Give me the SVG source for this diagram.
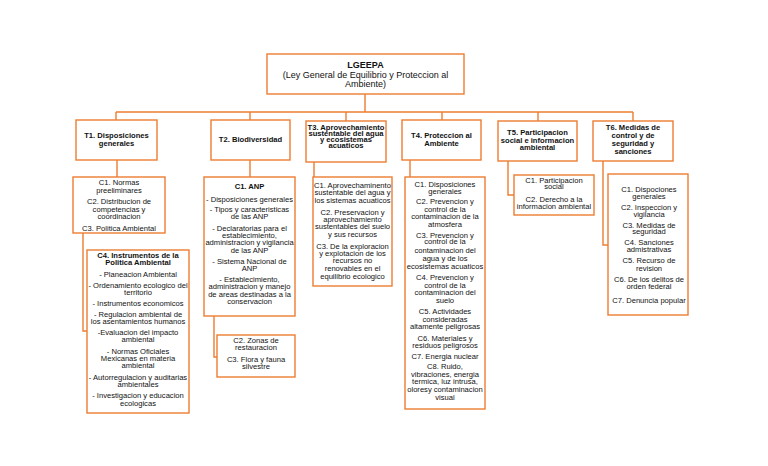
<svg xmlns="http://www.w3.org/2000/svg" width="768" height="466" viewBox="0 0 768 466">
<style>
.box{fill:#fff;stroke:#ED7D31;stroke-width:1.4}
.ln{fill:none;stroke:#ED7D31;stroke-width:1.4}
text{font-family:"Liberation Sans",Arial,sans-serif;font-size:7.6px;text-anchor:middle;fill:#111}
.b{font-weight:bold}
.r{font-size:9px}
</style>
<rect width="768" height="466" fill="#fff"/>
<g id="connectors">
<path class="ln" d="M365,94V112M116,112H633M116,112V120M250,112V120M346,112V121M442,112V120M538,112V121M633,112V121"/>
<path class="ln" d="M117,160V177M83,233V331H87"/>
<path class="ln" d="M250,160V177M214,316V357H217"/>
<path class="ln" d="M314,162V177"/>
<path class="ln" d="M410,160V177"/>
<path class="ln" d="M508,161V195H514"/>
<path class="ln" d="M603,161V245H608"/>
</g>
<g id="root">
<rect class="box" x="267" y="54" width="197" height="40"/>
<text class="r"><tspan class="b" x="365.5" y="67.5">LGEEPA</tspan><tspan x="365.5" y="78.3">(Ley General de Equilibrio y Proteccion al</tspan><tspan x="365.5" y="86.5">Ambiente)</tspan></text>
</g>
<g id="t1">
<rect class="box" x="76" y="120" width="81" height="40"/>
<text class="b"><tspan x="116.5" y="137.7">T1. Disposiciones</tspan><tspan x="116.5" y="145.7">generales</tspan></text>
</g>
<g id="t2">
<rect class="box" x="211" y="120" width="79" height="40"/>
<text class="b"><tspan x="250.5" y="141.7">T2. Biodiversidad</tspan></text>
</g>
<g id="t3">
<rect class="box" x="306" y="121" width="80" height="41"/>
<text class="b"><tspan x="346" y="130">T3. Aprovechamiento</tspan><tspan x="346" y="136">sustentable del agua</tspan><tspan x="346" y="142.2">y ecosistemas</tspan><tspan x="346" y="148.4">acuaticos</tspan></text>
</g>
<g id="t4">
<rect class="box" x="402" y="120" width="79" height="40"/>
<text class="b"><tspan x="441.5" y="138.2">T4. Proteccion al</tspan><tspan x="441.5" y="145.7">Ambiente</tspan></text>
</g>
<g id="t5">
<rect class="box" x="498" y="121" width="79" height="40"/>
<text class="b"><tspan x="537.5" y="135">T5. Participacion</tspan><tspan x="537.5" y="142.7">social e informacion</tspan><tspan x="537.5" y="150.4">ambiental</tspan></text>
</g>
<g id="t6">
<rect class="box" x="593" y="121" width="80" height="40"/>
<text class="b"><tspan x="633" y="130.4">T6. Medidas de</tspan><tspan x="633" y="138.4">control y de</tspan><tspan x="633" y="146">seguridad y</tspan><tspan x="633" y="154.4">sanciones</tspan></text>
</g>
<g id="t1c">
<rect class="box" x="73" y="177" width="92" height="56"/>
<text><tspan x="119" y="185.4">C1. Normas</tspan><tspan x="119" y="192.7">preeliminares</tspan><tspan x="119" y="204.4">C2. Distribucion de</tspan><tspan x="119" y="212">competencias y</tspan><tspan x="119" y="219.4">coordinacion</tspan><tspan x="119" y="231">C3. Politica Ambiental</tspan></text>
</g>
<g id="t1c4">
<rect class="box" x="87" y="250" width="102" height="163"/>
<text><tspan class="b" x="138" y="258.4">C4. Instrumentos de la</tspan><tspan class="b" x="138" y="265.4">Politica Ambiental</tspan><tspan x="138" y="277">- Planeacion Ambiental</tspan><tspan x="138" y="288.4">- Ordenamiento ecologico del</tspan><tspan x="138" y="295.4">territorio</tspan><tspan x="138" y="306">- Instrumentos economicos</tspan><tspan x="138" y="317">- Regulacion ambiental de</tspan><tspan x="138" y="324">los asentamientos humanos</tspan><tspan x="138" y="335.4">-Evaluacion del impacto</tspan><tspan x="138" y="342.4">ambiental</tspan><tspan x="138" y="353.7">- Normas Oficiales</tspan><tspan x="138" y="361">Mexicanas en materia</tspan><tspan x="138" y="368">ambiental</tspan><tspan x="138" y="379.7">- Autorregulacion y auditarias</tspan><tspan x="138" y="386.7">ambientales</tspan><tspan x="138" y="398">- Investigacion y educacion</tspan><tspan x="138" y="405.6">ecologicas</tspan></text>
</g>
<g id="t2c1">
<rect class="box" x="204" y="177" width="91" height="139"/>
<text><tspan class="b" x="249.5" y="188.7">C1. ANP</tspan><tspan x="249.5" y="202">- Disposiciones generales</tspan><tspan x="249.5" y="212">- Tipos y caracteristicas</tspan><tspan x="249.5" y="219.4">de las ANP</tspan><tspan x="249.5" y="231">- Declaratorias para el</tspan><tspan x="249.5" y="237.7">establecimiento,</tspan><tspan x="249.5" y="245.4">administracion y vigilancia</tspan><tspan x="249.5" y="252.7">de las ANP</tspan><tspan x="249.5" y="264.4">- Sistema Nacional de</tspan><tspan x="249.5" y="271">ANP</tspan><tspan x="249.5" y="282">- Establecimiento,</tspan><tspan x="249.5" y="289.4">administracion y manejo</tspan><tspan x="249.5" y="296.7">de areas destinadas a la</tspan><tspan x="249.5" y="304">conservacion</tspan></text>
</g>
<g id="t2c2">
<rect class="box" x="217" y="335" width="78" height="42"/>
<text><tspan x="256" y="342.7">C2. Zonas de</tspan><tspan x="256" y="350">restauracion</tspan><tspan x="256" y="362">C3. Flora y fauna</tspan><tspan x="256" y="368.7">silvestre</tspan></text>
</g>
<g id="t3c">
<rect class="box" x="313" y="177" width="79" height="109"/>
<text><tspan x="352.5" y="187.7">C1. Aprovechaminento</tspan><tspan x="352.5" y="195">sustentable del agua y</tspan><tspan x="352.5" y="202.7">los sistemas acuaticos</tspan><tspan x="352.5" y="215.4">C2. Preservacion y</tspan><tspan x="352.5" y="222">aprovechamiento</tspan><tspan x="352.5" y="229.4">sustentables del suelo</tspan><tspan x="352.5" y="236.7">y sus recursos</tspan><tspan x="352.5" y="248.7">C3. De la exploracion</tspan><tspan x="352.5" y="256">y explotacion de los</tspan><tspan x="352.5" y="263.4">recursos no</tspan><tspan x="352.5" y="271">renovables en el</tspan><tspan x="352.5" y="279">equilibrio ecologico</tspan></text>
</g>
<g id="t4c">
<rect class="box" x="405" y="177" width="80" height="232"/>
<text><tspan x="445" y="186.7">C1. Disposiciones</tspan><tspan x="445" y="194.4">generales</tspan><tspan x="445" y="204.4">C2. Prevencion y</tspan><tspan x="445" y="211.7">control de la</tspan><tspan x="445" y="219.4">contaminacion de la</tspan><tspan x="445" y="226.7">atmosfera</tspan><tspan x="445" y="237.7">C3. Prevencion y</tspan><tspan x="445" y="244.4">control de la</tspan><tspan x="445" y="252.7">contaminacion del</tspan><tspan x="445" y="261">agua y de los</tspan><tspan x="445" y="269">ecosistemas acuaticos</tspan><tspan x="445" y="280">C4. Prevencion y</tspan><tspan x="445" y="287.7">control de la</tspan><tspan x="445" y="295.4">contaminacion del</tspan><tspan x="445" y="302.7">suelo</tspan><tspan x="445" y="314.4">C5. Actividades</tspan><tspan x="445" y="322">consideradas</tspan><tspan x="445" y="329.4">altamente peligrosas</tspan><tspan x="445" y="341">C6. Materiales y</tspan><tspan x="445" y="347.7">residuos peligrosos</tspan><tspan x="445" y="358.7">C7. Energia nuclear</tspan><tspan x="445" y="369.4">C8. Ruido,</tspan><tspan x="445" y="376.7">vibraciones, energia</tspan><tspan x="445" y="384.4">termica, luz intrusa,</tspan><tspan x="445" y="392">oloresy contaminacion</tspan><tspan x="445" y="400">visual</tspan></text>
</g>
<g id="t5c">
<rect class="box" x="514" y="175" width="80" height="40"/>
<text><tspan x="554" y="182.7">C1. Participacion</tspan><tspan x="554" y="189.4">social</tspan><tspan x="554" y="202">C2. Derecho a la</tspan><tspan x="554" y="208.7">informacion ambiental</tspan></text>
</g>
<g id="t6c">
<rect class="box" x="608" y="174" width="80" height="141"/>
<text><tspan x="649" y="192">C1. Dispociones</tspan><tspan x="649" y="198.7">generales</tspan><tspan x="649" y="210">C2. Inspeccion y</tspan><tspan x="649" y="216.7">vigilancia</tspan><tspan x="649" y="227.7">C3. Medidas de</tspan><tspan x="649" y="234.4">seguridad</tspan><tspan x="649" y="245.4">C4. Sanciones</tspan><tspan x="649" y="252">admistrativas</tspan><tspan x="649" y="263.4">C5. Recurso de</tspan><tspan x="649" y="271">revision</tspan><tspan x="649" y="282">C6. De los delitos de</tspan><tspan x="649" y="289.4">orden federal</tspan><tspan x="649" y="302.7">C7. Denuncia popular</tspan></text>
</g>
</svg>
